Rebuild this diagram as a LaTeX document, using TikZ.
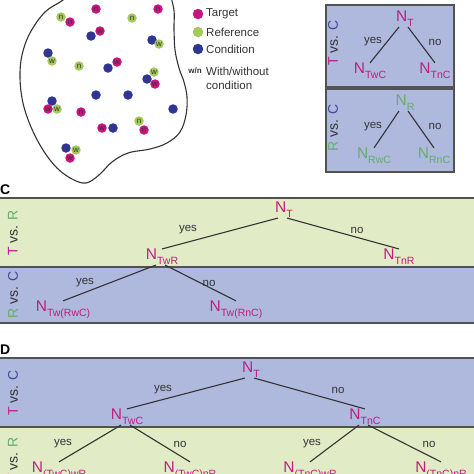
\documentclass[tikz,border=0pt]{standalone}
\usepackage{fontspec}
\setmainfont{Liberation Sans}
\usepackage{tikz}

\definecolor{tgt}{HTML}{C8147F}
\definecolor{refc}{HTML}{A5C95A}
\definecolor{cond}{HTML}{2F3590}
\definecolor{bandblue}{HTML}{AFB8DD}
\definecolor{bandgreen}{HTML}{E1EBC6}
\definecolor{tgttext}{HTML}{BE1E82}
\definecolor{reftext}{HTML}{62AE6C}
\definecolor{condtext}{HTML}{3F4A9C}
\definecolor{ink}{HTML}{333333}

\newcommand{\Nsub}[1]{N\raisebox{-5pt}{\fontsize{10.5}{10.5}\selectfont #1}}

\begin{document}
\begin{tikzpicture}[x=1pt, y=-1pt,
        dot/.style={circle, inner sep=0pt, minimum size=9.5pt, font=\fontsize{8}{8}\selectfont, text=ink},
        tdot/.style={dot, fill=tgt},
        rdot/.style={dot, fill=refc},
        cdot/.style={dot, fill=cond},
        band/.style={draw=ink!85, line width=1.2pt},
        edge/.style={draw=ink, line width=1.1pt},
        ans/.style={font=\fontsize{11.5}{12}\selectfont, text=ink, inner sep=0pt},
        cnt/.style={font=\fontsize{15.5}{16}\selectfont, inner sep=0pt},
        side/.style={rotate=90, font=\fontsize{14}{14}\selectfont, text=ink, inner sep=0pt},
        key/.style={font=\fontsize{11.5}{14}\selectfont, text=ink, anchor=west, align=left, inner sep=0pt}]
        \useasboundingbox (0,0) rectangle (474,474);
        \clip (0,0) rectangle (474,474);

        % Population blob
        \draw[line width=1.1pt, ink] plot[smooth cycle, tension=0.6] coordinates {
            (63,0) (45,12) (30,33) (22,55) (20,78) (23,103) (31,127) (43,150) (57,168)
            (72,179) (86,183) (99,175) (112,162) (128,153) (150,149) (167,143) (180,132)
            (186,115) (187,97) (184,82) (179,68) (175,50) (174,30) (173,5) (160,-20) (110,-28) (75,-12)};

        % Condition dots
        \foreach \x/\y [count=\i] in {91/36, 152/40, 48/53, 108/68, 147/79, 96/95, 128/95, 173/109, 52/101, 113/128, 66/148}
            \node[cdot] (c\i) at (\x,\y) {};
        % Reference dots
        \foreach \x/\y/\l [count=\i] in {61/17/n, 132/18/n, 159/44/w, 52/61/w, 79/66/n, 154/72/w, 57/109/w, 139/121/n, 76/150/w}
            \node[rdot] (r\i) at (\x,\y) {\l};
        % Target dots
        \foreach \x/\y/\l [count=\i] in {96/9/n, 158/9/n, 70/22/n, 100/31/w, 117/62/w, 155/84/w, 48/109/w, 81/112/n, 102/128/w, 144/130/n, 70/158/w}
            \node[tdot] (t\i) at (\x,\y) {\l};

        % Legend
        \node[dot, fill=tgt, minimum size=10.5pt] (kt) at (198,14) {};
        \node[key] (ktl) at (206,14) {Target};
        \node[dot, fill=refc, minimum size=10.5pt] (kr) at (198,32) {};
        \node[key] (krl) at (206,32) {Reference};
        \node[dot, fill=cond, minimum size=10.5pt] (kc) at (198,49) {};
        \node[key] (kcl) at (206,49) {Condition};
        \node[font=\fontsize{8}{8}\selectfont\bfseries, text=ink, inner sep=0pt] (kwn) at (195,71) {w/n};
        \node[key] (kwnl) at (206,78) {With/without\\condition};

        % B: T vs. C
        \draw[band, fill=bandblue] (326,5) rectangle (454,87);
        \node[side] (bs1) at (333,43) {{\color{tgttext}T} vs. {\color{condtext}C}};
        \node[cnt, text=tgttext] (bt) at (405,19) {\Nsub{T}};
        \node[cnt, text=tgttext] (btw) at (370,71) {\Nsub{TwC}};
        \node[cnt, text=tgttext] (btn) at (435,71) {\Nsub{TnC}};
        \draw[edge] ([xshift=-6pt]bt.south) -- (btw.north);
        \draw[edge] ([xshift=3pt]bt.south) -- (btn.north);
        \node[ans] (by1) at (373,42) {yes};
        \node[ans] (bn1) at (435,42) {no};

        % B: R vs. C
        \draw[band, fill=bandblue] (326,89) rectangle (454,172);
        \node[side] (bs2) at (333,128) {{\color{reftext}R} vs. {\color{condtext}C}};
        \node[cnt, text=reftext] (br) at (405,103) {\Nsub{R}};
        \node[cnt, text=reftext] (brw) at (374,156) {\Nsub{RwC}};
        \node[cnt, text=reftext] (brn) at (434,156) {\Nsub{RnC}};
        \draw[edge] ([xshift=-6pt]br.south) -- (brw.north);
        \draw[edge] ([xshift=3pt]br.south) -- (brn.north);
        \node[ans] (by2) at (373,127) {yes};
        \node[ans] (bn2) at (435,126) {no};

        % C
        \node[font=\fontsize{14}{14}\selectfont\bfseries, anchor=west, inner sep=0pt] (lc) at (0,190) {C};
        \draw[band, fill=bandgreen] (-2,198) rectangle (480,267);
        \draw[band, fill=bandblue] (-2,267) rectangle (480,323);
        \node[side] (cs1) at (13,233) {{\color{tgttext}T} vs. {\color{reftext}R}};
        \node[side] (cs2) at (13,295) {{\color{reftext}R} vs. {\color{condtext}C}};
        \node[cnt, text=tgttext] (ct) at (284,210) {\Nsub{T}};
        \node[cnt, text=tgttext] (ctw) at (162,257) {\Nsub{TwR}};
        \node[cnt, text=tgttext] (ctn) at (399,257) {\Nsub{TnR}};
        \node[cnt, text=tgttext] (ctww) at (63,310) {\Nsub{Tw(RwC)}};
        \node[cnt, text=tgttext] (ctwn) at (236,310) {\Nsub{Tw(RnC)}};
        \draw[edge] ([xshift=-6pt]ct.south) -- (ctw.north);
        \draw[edge] ([xshift=3pt]ct.south) -- (ctn.north);
        \draw[edge] ([xshift=-6pt]ctw.south) -- (ctww.north);
        \draw[edge] ([xshift=3pt]ctw.south) -- (ctwn.north);
        \node[ans] (cy1) at (188,230) {yes};
        \node[ans] (cn1) at (357,230) {no};
        \node[ans] (cy2) at (85,283) {yes};
        \node[ans] (cn2) at (209,283) {no};

        % D
        \node[font=\fontsize{14}{14}\selectfont\bfseries, anchor=west, inner sep=0pt] (ld) at (0,350) {D};
        \draw[band, fill=bandblue] (-2,358) rectangle (480,427);
        \draw[band, fill=bandgreen] (-2,427) rectangle (480,490);
        \node[side] (ds1) at (13,393) {{\color{tgttext}T} vs. {\color{condtext}C}};
        \node[side] (ds2) at (13,460) {{\color{tgttext}T} vs. {\color{reftext}R}};
        \node[cnt, text=tgttext] (dt) at (251,370) {\Nsub{T}};
        \node[cnt, text=tgttext] (dtw) at (127,417) {\Nsub{TwC}};
        \node[cnt, text=tgttext] (dtn) at (365,417) {\Nsub{TnC}};
        \node[cnt, text=tgttext] (dtww) at (59,471) {\Nsub{(TwC)wR}};
        \node[cnt, text=tgttext] (dtwn) at (190,471) {\Nsub{(TwC)nR}};
        \node[cnt, text=tgttext] (dtnw) at (310,471) {\Nsub{(TnC)wR}};
        \node[cnt, text=tgttext] (dtnn) at (441,471) {\Nsub{(TnC)nR}};
        \draw[edge] ([xshift=-6pt]dt.south) -- (dtw.north);
        \draw[edge] ([xshift=3pt]dt.south) -- (dtn.north);
        \draw[edge] ([xshift=-6pt]dtw.south) -- (dtww.north);
        \draw[edge] ([xshift=3pt]dtw.south) -- (dtwn.north);
        \draw[edge] ([xshift=-6pt]dtn.south) -- (dtnw.north);
        \draw[edge] ([xshift=3pt]dtn.south) -- (dtnn.north);
        \node[ans] (dy1) at (163,390) {yes};
        \node[ans] (dn1) at (338,390) {no};
        \node[ans] (dy2) at (63,444) {yes};
        \node[ans] (dn2) at (180,444) {no};
        \node[ans] (dy3) at (312,444) {yes};
        \node[ans] (dn3) at (429,444) {no};
\end{tikzpicture}
\end{document}
